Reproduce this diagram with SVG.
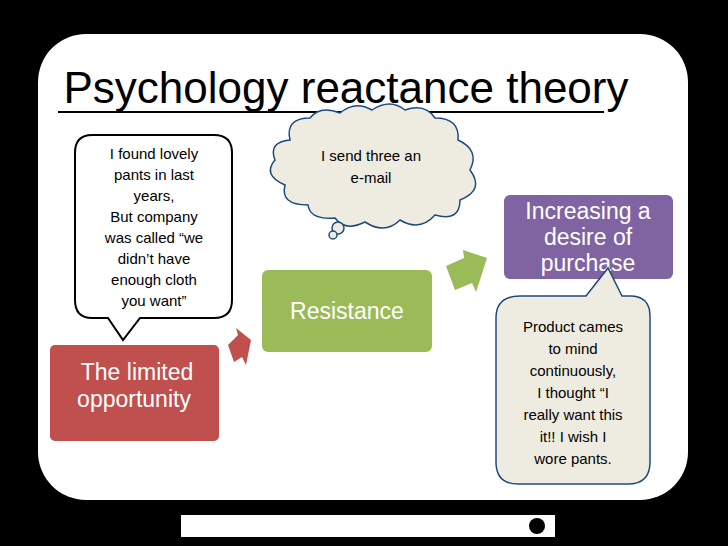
<svg xmlns="http://www.w3.org/2000/svg" width="728" height="546" viewBox="0 0 728 546">
<style>
text{font-family:"Liberation Sans",Arial,sans-serif;text-anchor:middle}
.c{font-size:15px;fill:#000}
.w{font-size:23px;fill:#fff}
</style>
<rect width="728" height="546" fill="#000"/>
<rect x="38" y="34" width="650" height="466" rx="48" fill="#fff"/>
<g id="title"><text x="346" y="103" style="font-size:44px;text-anchor:middle">Psychology reactance theory</text>
<line x1="58" y1="112" x2="604" y2="112" stroke="#000" stroke-width="2"/></g>
<g id="callout-left">
<path d="M92,135 H214 Q232,135 232,153 V300 Q232,318 214,318 H140 L123,340 L108,318 H92 Q75,318 75,300 V153 Q75,135 92,135 Z" fill="#fff" stroke="#000" stroke-width="2"/>
<text class="c" x="154" y="159">I found lovely</text>
<text class="c" x="154" y="180">pants in last</text>
<text class="c" x="154" y="201">years,</text>
<text class="c" x="154" y="222">But company</text>
<text class="c" x="154" y="243">was called  “we</text>
<text class="c" x="154" y="264">didn’t have</text>
<text class="c" x="154" y="285">enough cloth</text>
<text class="c" x="154" y="306">you want”</text>
</g>
<g id="cloud">
<path d="M290,140 Q285,118 310,118 Q320,105 340,113 Q355,100 372,110 Q390,98 405,110 Q425,103 435,118 Q460,118 458,140 Q480,150 470,170 Q485,190 460,200 Q460,222 435,215 Q420,232 400,220 Q385,235 365,222 Q345,232 335,218 Q310,220 308,205 Q280,205 285,185 Q262,175 275,160 Q268,142 290,140 Z" fill="#eeece1" stroke="#1f497d" stroke-width="1.5"/>
<circle cx="338" cy="228" r="6" fill="#eeece1" stroke="#1f497d" stroke-width="1.5"/>
<circle cx="333" cy="235" r="4" fill="#eeece1" stroke="#1f497d" stroke-width="1.5"/>
<text class="c" x="371" y="161">I send three an</text>
<text class="c" x="371" y="183">e-mail</text>
</g>
<g id="connectors">
<path d="M228,345 L238,335 L236,328 L251,340 L246,365 L242,357 L234,362 Z" fill="#c0504d"/>
<path d="M446,266 L464,258 L463,250 L487,258 L476,292 L472,283 L455,290 Z" fill="#9bbb59"/>
</g>
<g id="node-limited"><rect x="50" y="345" width="169" height="96" rx="5" fill="#c0504d"/>
<text class="w" x="137" y="380">The limited</text><text class="w" x="134" y="407">opportunity</text></g>
<g id="node-resistance"><rect x="262" y="270" width="170" height="82" rx="6" fill="#9bbb59"/>
<text class="w" x="347" y="319">Resistance</text></g>
<g id="node-increasing"><rect x="504" y="195" width="169" height="84" rx="6" fill="#8064a2"/>
<text class="w" x="588" y="219">Increasing a</text><text class="w" x="588" y="245">desire of</text><text class="w" x="588" y="271">purchase</text></g>
<g id="callout-right">
<path d="M520,296 H586 L608,268 L622,296 H630 Q650,296 650,316 V462 Q650,484 628,484 H518 Q496,484 496,462 V318 Q496,296 520,296 Z" fill="#eeece1" stroke="#1f497d" stroke-width="1.5"/>
<text class="c" x="573" y="332">Product cames</text>
<text class="c" x="573" y="354">to mind</text>
<text class="c" x="573" y="376">continuously,</text>
<text class="c" x="573" y="398">I thought “I</text>
<text class="c" x="573" y="420">really want this</text>
<text class="c" x="573" y="442">it!! I wish I</text>
<text class="c" x="573" y="464">wore pants.</text>
</g>
<rect x="181" y="515" width="374" height="22" fill="#fff"/>
<circle cx="537" cy="526" r="8" fill="#000"/>
</svg>
